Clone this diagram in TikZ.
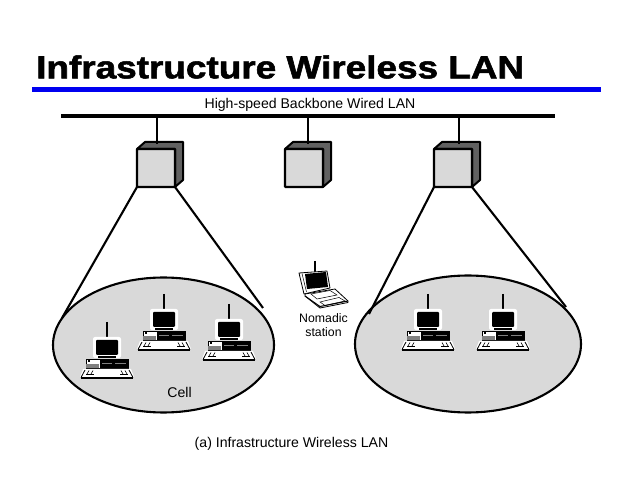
\documentclass[tikz,border=0pt]{standalone}
\usepackage{graphicx}
\usepackage{fontspec}
\usetikzlibrary{shapes.geometric}
\setmainfont{Liberation Sans}
\newfontfamily\titlef[FakeBold=1.6]{Liberation Sans Bold}
\definecolor{cellgray}{gray}{0.85}
\definecolor{sidegray}{gray}{0.38}
\definecolor{titleblue}{RGB}{0,0,240}
\tikzset{
  apfront/.style={draw=black,line width=2.2pt,fill=cellgray,minimum width=38pt,minimum height=38pt,inner sep=0pt,outer sep=0pt,rectangle,rounded corners=0.6pt},
  wire/.style={line width=2.3pt,black},
  cone/.style={line width=2.1pt,black},
  cellshape/.style={draw=black,line width=2.1pt,fill=cellgray,ellipse},
  lbl/.style={font=\fontsize{14.1}{15}\selectfont,inner sep=0pt,text=black,align=center},
  ap/.pic={
    \fill[sidegray,draw=black,line width=2pt,line join=round] (-19,-19) -- (-11,-26) -- (27,-26) -- (27,12) -- (19,19) -- (19,-19) -- cycle;
  },
  computer/.pic={
    \draw[line width=2pt] (0,0) -- (0,16);
    \fill[white,rounded corners=2pt] (-14,15) rectangle (14,36);
    \fill[black,rounded corners=1pt] (-11,18) rectangle (11,33);
    \fill[black] (-9,34) rectangle (9,36.5);
    \fill[white] (-21,37) rectangle (21,47);
    \draw[line width=0.5pt] (-21,37) rectangle (21,46);
    \fill[black] (-7,37) rectangle (21,46);
    \fill[gray] (-21,42) rectangle (-8,46);
    \fill[black] (-19,38.5) rectangle (-17,40.5);
    \draw[gray,line width=0.5pt] (-5,41.5) -- (5,41.5) (8,41.5) -- (19,41.5);
    \fill[white] (-24,47) -- (24,47) -- (27,55) -- (-27,55) -- cycle;
    \draw[line width=0.8pt] (-22,48) -- (-26,55.5) (26,55.5) -- (22,48);
    \draw[line width=1.6pt] (-26,56) -- (26,56);
    \draw[line width=0.6pt] (-18,48.5) -- (-20,52) (-14,48.5) -- (-16,52) (14,48.5) -- (16,52) (18,48.5) -- (20,52);
    \draw[line width=0.6pt] (-21,52) -- (-13,52) (13,52) -- (21,52);
  },
  laptop/.pic={
    \draw[line width=2pt] (0,0) -- (0,11);
    % lid
    \fill[white,draw=black,line width=0.8pt,line join=round] (-16,12) -- (12,10) -- (15,27) -- (-11,33) -- cycle;
    \fill[black] (-10,13) -- (11,11) -- (13,26) -- (-8,28) -- cycle;
    \draw[line width=0.5pt] (-13,12.5) -- (-8.5,31);
    % base
    \fill[white,draw=black,line width=0.8pt,line join=round] (-10,33) -- (20,28) -- (33,40) -- (33,41.5) -- (5,47) -- (-10,35) -- cycle;
    \draw[line width=0.5pt] (-4,33) -- (15,29.5) -- (22,34) -- (2,38) -- cycle;
    \draw[line width=0.5pt] (5,41) -- (24,36.5) -- (30,40) -- (10,44.5) -- cycle;
    \draw[line width=1pt] (-10,35) -- (5,45.5) -- (33,40);
  }
}
\begin{document}
\begin{tikzpicture}[x=1pt,y=-1pt]
\useasboundingbox (0,0) rectangle (638,478);
\fill[white] (0,0) rectangle (638,478);
% title
\node[anchor=west,inner sep=0pt] (title) at (36,67) {\resizebox{488pt}{23pt}{\titlef Infrastructure Wireless LAN}};
\fill[titleblue] (32,87.5) rectangle (601,92.5);
\node[lbl] (bbl) at (310,105) {High-speed Backbone Wired LAN};
% backbone
\coordinate (busl) at (61,116);
\coordinate (busr) at (555,116);
\coordinate (d1) at (157,116);
\coordinate (d2) at (308,116);
\coordinate (d3) at (459,116);
\draw[line width=4pt] (busl) -- (busr);
% cells
\node[cellshape,minimum width=221pt,minimum height=135pt,inner sep=0pt] (cellL) at (163.5,345) {};
\node[cellshape,minimum width=226pt,minimum height=137pt,inner sep=0pt] (cellR) at (468,344) {};
% APs
\pic at (156,168) {ap};
\pic at (304,168) {ap};
\pic at (453,168) {ap};
\node[apfront] (apA) at (156,168) {};
\node[apfront] (apB) at (304,168) {};
\node[apfront] (apC) at (453,168) {};
\coordinate (t1) at (157,144);
\coordinate (t2) at (308,144);
\coordinate (t3) at (459,144);
\draw[wire] (d1) -- (t1);
\draw[wire] (d2) -- (t2);
\draw[wire] (d3) -- (t3);
% cones
\coordinate (c1) at (62,318);
\coordinate (c2) at (263,308);
\coordinate (c3) at (369,314);
\coordinate (c4) at (566,307);
\draw[cone] (apA.south west) -- (c1);
\draw[cone] (apA.south east) -- (c2);
\draw[cone] (apC.south west) -- (c3);
\draw[cone] (apC.south east) -- (c4);
% stations
\pic at (164,294) {computer};
\pic at (107,322) {computer};
\pic at (229,304) {computer};
\pic at (428,294) {computer};
\pic at (503,294) {computer};
\pic at (315,261) {laptop};
% labels
\node[lbl,font=\fontsize{12.3}{13.5}\selectfont] (nom) at (323.5,325) {Nomadic\\station};
\node[lbl] (cell) at (179.5,392) {Cell};
\node[lbl] (cap) at (291.5,444) {(a) Infrastructure Wireless LAN};
\end{tikzpicture}
\end{document}
